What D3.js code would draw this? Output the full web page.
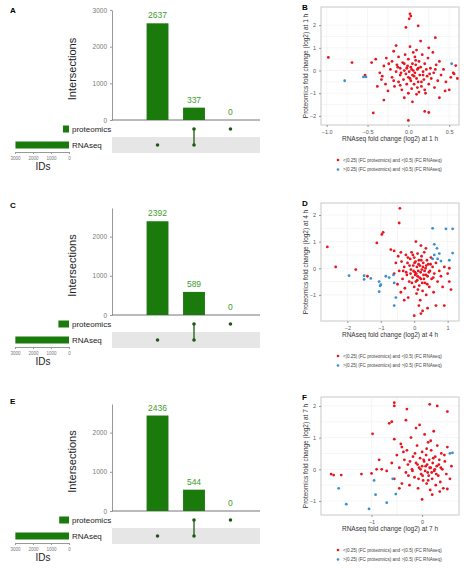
<!DOCTYPE html>
<html>
<head>
<meta charset="utf-8">
<script src="https://cdn.jsdelivr.net/npm/d3@7"></script>
<style>
  body { margin: 0; background: #fff; }
  text { font-family: "Liberation Sans", Arial, sans-serif; }
</style>
</head>
<body>
<div id="chart"></div>
<script>
// UpSet data (A, C, E)
const setNames = ["proteomics", "RNAseq"];
const combos = [["RNAseq"], ["proteomics", "RNAseq"], ["proteomics"]];
const countsA = [2637, 337, 0];
const countsC = [2392, 589, 0];
const countsE = [2436, 544, 0];
const setSizeTicks = [3000, 2000, 1000, 0];

// Scatter data (B, D, F): [RNAseq log2FC, proteomics log2FC]
const redB = [[-0.98,0.58],[-0.69,0.35],[-0.53,-0.2],[-0.43,-1.87],[0.0,-2.2],[0.02,2.5],[0.03,2.4],[0.01,2.28],[-0.03,1.9],[0.12,1.97],[0.33,1.45],[0.05,-1.38],[0.1,-1.05],[0.2,-1.8],[0.25,-1.85],[0.38,-1.2],[0.5,-0.85],[0.52,-0.3],[0.58,0.22],[0.6,-0.35],[0.55,-0.1],[0.46,-0.5],[0.45,-0.9],[0.43,0.05],[0.56,-0.15],
[-0.35,-0.1],[-0.33,-0.4],[-0.3,0.2],[-0.28,-0.6],[-0.27,0.55],[-0.25,-0.9],[-0.22,0.05],[-0.2,-0.3],[-0.2,0.4],[-0.18,0.85],[-0.17,-0.7],[-0.15,-0.05],[-0.14,0.25],[-0.12,-0.5],[-0.12,0.6],[-0.1,-0.2],[-0.1,0.1],[-0.08,-0.85],[-0.07,0.35],[-0.06,-0.4],[-0.05,0.0],[-0.04,0.7],[-0.03,-0.15],[-0.02,-0.6],[-0.01,0.2],[0.0,-0.3],[0.0,0.5],[0.01,-0.05],[0.02,1.05],[0.03,-0.45],[0.03,0.15],[0.04,-0.8],[0.05,0.3],[0.05,-0.2],[0.06,0.0],[0.07,-0.6],[0.08,0.6],[0.08,-0.1],[0.09,0.25],[0.1,-0.35],[0.1,0.9],[0.11,0.05],[0.12,-0.5],[0.13,-0.95],[0.13,0.4],[0.14,-0.2],[0.15,0.15],[0.16,-0.7],[0.17,0.7],[0.18,-0.05],[0.19,-0.4],[0.2,0.3],[0.21,-1.0],[0.22,0.05],[0.23,-0.25],[0.24,0.55],[0.25,-0.6],[0.27,0.1],[0.28,-0.35],[0.3,0.8],[0.31,-0.1],[0.32,-0.75],[0.34,0.25],[0.36,-0.45],[0.38,0.4],[0.4,-0.2],[-0.4,0.5],[-0.38,-0.7],[-0.45,0.35],[-0.3,-1.3],[-0.15,1.1],[0.15,1.3],[0.25,1.0],[0.0,-1.0],[-0.05,-1.2],
[-0.02,0.1],[0.04,0.05],[0.07,-0.25],[-0.09,-0.1],[0.12,0.1],[-0.13,0.15],[0.18,-0.2],[0.02,-0.35],[-0.05,0.3],[0.09,0.45],[0.16,-0.5],[-0.18,-0.45],[0.26,-0.15],[-0.24,0.3],[0.06,0.8],[0.2,-0.85],[-0.1,-0.65],[0.33,0.05],[-0.32,-0.25],[0.11,-0.75]];
const blueB = [[-0.78,-0.45],[-0.55,-0.28],[-0.52,-0.28],[0.53,0.3]];

const redD = [[-2.6,0.8],[-2.35,0.05],[-1.75,-0.05],[-1.12,0.95],[-0.97,1.27],[-0.93,1.35],[-0.43,2.25],[-0.45,1.7],[0.0,-1.78],[0.2,-1.7],[0.25,-1.6],[0.65,-1.4],[0.9,-1.4],[1.05,-0.5],[1.1,-0.8],[-1.4,-0.3],[-0.7,0.7],[-0.6,0.65],[-0.4,0.6],[0.05,1.0],[0.2,0.85],[0.35,0.75],
[-0.6,-0.2],[-0.55,0.2],[-0.5,-0.6],[-0.48,0.45],[-0.45,-0.1],[-0.4,-0.9],[-0.38,0.25],[-0.35,-0.4],[-0.3,0.05],[-0.28,-0.75],[-0.25,0.5],[-0.22,-0.25],[-0.2,0.2],[-0.18,-1.1],[-0.15,-0.5],[-0.12,0.35],[-0.1,-0.05],[-0.08,0.6],[-0.05,-0.35],[-0.03,0.1],[0.0,-0.7],[0.0,0.4],[0.02,-0.15],[0.04,0.25],[0.05,-0.5],[0.07,-0.95],[0.08,0.05],[0.1,0.55],[0.1,-0.3],[0.12,-0.1],[0.14,0.3],[0.15,-0.65],[0.17,0.1],[0.18,-1.2],[0.2,-0.4],[0.22,0.45],[0.23,-0.05],[0.25,-0.85],[0.27,0.2],[0.28,-0.25],[0.3,0.6],[0.32,-0.55],[0.34,0.0],[0.36,-1.0],[0.38,0.3],[0.4,-0.3],[0.42,0.15],[0.45,-0.7],[0.47,-0.1],[0.5,0.4],[0.52,-0.4],[0.55,0.05],[0.58,-0.9],[0.6,-0.2],[0.65,0.2],[0.7,-0.5],[0.75,-0.1],[0.8,-0.3],[0.85,-0.7],[0.9,0.05],[1.0,-0.2],[1.05,0.0],
[-0.02,-0.1],[0.06,-0.2],[0.13,0.15],[-0.07,-0.55],[0.19,-0.15],[0.26,0.05],[-0.14,0.1],[0.31,-0.1],[0.09,-0.45],[-0.24,-0.15],[0.36,0.1],[0.16,-0.35],[0.01,0.2],[0.24,-0.55],[-0.11,-0.2],[0.44,-0.15],[0.21,0.3],[0.03,-0.25],[0.29,-0.4],[-0.33,-0.1],[0.11,-0.8],[0.39,-0.6],[-0.19,0.4],[0.49,0.15],[0.35,-0.25],[-0.04,0.5],[0.57,-0.35],[0.14,-1.4],[0.4,-1.5],[-0.3,-1.2]];
const blueD = [[-1.95,-0.28],[-1.5,-0.28],[-1.5,-0.42],[-1.3,-0.38],[-1.05,-0.5],[-1.0,-0.62],[-1.02,-0.66],[-1.05,-0.88],[-0.6,-1.4],[-0.55,-1.1],[-0.6,-0.55],[-0.85,-0.3],[-0.75,-0.35],[-0.62,-0.25],[0.55,1.5],[0.95,1.48],[1.15,1.48],[1.15,0.57],[1.05,0.3],[0.6,0.9],[0.68,0.75],[0.75,0.55],[0.6,0.5],[0.7,0.35],[0.55,0.35],[0.8,0.27]];

const redF = [[-1.8,-0.15],[-1.75,-0.18],[-1.6,-0.18],[-1.2,-0.15],[-0.98,1.12],[-1.0,-0.13],[-0.9,0.0],[-0.55,2.1],[-0.55,2.0],[-0.3,1.9],[0.15,2.05],[0.3,2.0],[0.5,1.82],[-0.65,1.45],[-0.6,1.5],[-0.32,1.55],[-0.05,1.4],[-0.55,0.95],[-0.4,0.7],[0.0,-0.95],[0.5,-0.62],[-0.7,-0.05],[-0.8,0.0],[-0.85,0.3],
[-0.6,0.2],[-0.55,-0.3],[-0.5,0.45],[-0.45,0.05],[-0.42,0.8],[-0.4,-0.45],[-0.35,0.3],[-0.32,-0.1],[-0.3,0.6],[-0.28,0.15],[-0.25,-0.5],[-0.22,1.0],[-0.2,0.0],[-0.18,0.4],[-0.15,-0.25],[-0.12,0.2],[-0.1,0.75],[-0.08,-0.6],[-0.06,0.05],[-0.04,0.35],[-0.02,-0.15],[0.0,0.55],[0.0,0.1],[0.02,-0.35],[0.04,0.25],[0.05,1.1],[0.06,-0.05],[0.08,0.45],[0.09,-0.45],[0.1,0.15],[0.12,0.85],[0.13,-0.2],[0.14,0.3],[0.16,-0.65],[0.17,0.05],[0.18,0.6],[0.2,-0.3],[0.21,0.2],[0.23,1.2],[0.24,-0.05],[0.26,0.4],[0.27,-0.5],[0.29,0.1],[0.3,0.75],[0.32,-0.2],[0.34,0.3],[0.36,-0.4],[0.38,0.5],[0.4,0.0],[0.42,-0.6],[0.45,0.25],[0.48,-0.15],[0.5,0.7],[0.55,-0.3],[0.58,0.1],
[-0.03,0.0],[0.07,0.1],[0.11,-0.1],[-0.09,0.15],[0.15,0.05],[0.19,-0.1],[-0.14,0.5],[0.22,0.35],[0.01,-0.2],[-0.19,-0.05],[0.25,0.0],[0.33,0.15],[0.03,0.3],[-0.24,0.25],[0.12,-0.35],[0.28,-0.15],[-0.07,-0.3],[0.37,0.05],[0.09,0.65],[-0.27,-0.2],[0.44,0.45],[-0.37,0.55],[0.17,0.9],[-0.12,1.3],[0.35,-0.7],[-0.45,-0.6],[0.2,-0.8]];
const blueF = [[-1.65,-0.6],[-1.5,-1.1],[-1.05,-1.25],[-0.95,-0.35],[-0.92,-0.8],[-0.7,-1.05],[-0.58,-0.3],[-0.52,-0.78],[0.55,0.5],[0.6,0.52]];

const W = 474, H = 572;
const green = "#1b7a0c", labelGreen = "#3f9b2d", dotGreen = "#1c5a12";
const red = "#e8141e", blue = "#3a8fd0";

const svg = d3.select("#chart").append("svg").attr("width", W).attr("height", H);

function drawUpset(letter, counts, top, yMax, yTicks, dy) {
    const g = svg.append("g").attr("transform", `translate(0,${dy})`);
    g.append("text").attr("x", 10).attr("y", 13).attr("font-size", 8).attr("font-weight", "bold").text(letter);

    const x = d3.scaleBand().domain(d3.range(combos.length)).range([132, 256]).padding(0.4);
    const y = d3.scaleLinear().domain([0, yMax]).range([120, top]);

    const ax = g.append("g").attr("transform", "translate(112,0)")
        .call(d3.axisLeft(y).tickValues(yTicks).tickSize(2).tickSizeOuter(0).tickFormat(d3.format("d")));
    ax.selectAll("text").attr("font-size", 6.5).attr("fill", "#777");
    ax.selectAll("line").attr("stroke", "#999");
    ax.select(".domain").attr("stroke", "#999");
    g.append("line").attr("x1", 112).attr("x2", 260).attr("y1", 120).attr("y2", 120).attr("stroke", "#777");

    g.selectAll(".bar").data(counts).enter().append("rect")
        .attr("x", (d, i) => x(i)).attr("width", x.bandwidth())
        .attr("y", d => y(d)).attr("height", d => 120 - y(d)).attr("fill", green);
    g.selectAll(".lab").data(counts).enter().append("text")
        .attr("x", (d, i) => x(i) + x.bandwidth() / 2).attr("y", d => y(d) - 5)
        .attr("text-anchor", "middle").attr("font-size", 8.5).attr("fill", labelGreen).text(d => d);

    g.append("text").attr("transform", `translate(76,${(120 + top) / 2 + 4}) rotate(-90)`)
        .attr("text-anchor", "middle").attr("font-size", 11).attr("fill", "#222").text("Intersections");

    // matrix
    const rowY = d3.scalePoint().domain(setNames).range([129, 145]);
    g.append("rect").attr("x", 112).attr("y", 137).attr("width", 148).attr("height", 16).attr("fill", "#e6e6e6");
    combos.forEach((c, i) => {
        const cx = x(i) + x.bandwidth() / 2;
        if (c.length > 1) {
            g.append("line").attr("x1", cx).attr("x2", cx)
                .attr("y1", rowY(c[0])).attr("y2", rowY(c[c.length - 1]))
                .attr("stroke", dotGreen).attr("stroke-width", 1.3);
        }
        c.forEach(s => g.append("circle").attr("cx", cx).attr("cy", rowY(s)).attr("r", 1.8).attr("fill", dotGreen));
    });

    // set sizes
    const sizes = {
        proteomics: counts[1] + counts[2],
        RNAseq: counts[0] + counts[1]
    };
    const sx = d3.scaleLinear().domain([3000, 0]).range([15, 69]);
    setNames.forEach(s => {
        g.append("rect").attr("x", sx(sizes[s])).attr("width", 69 - sx(sizes[s]))
            .attr("y", rowY(s) - 3.5).attr("height", 7).attr("fill", green);
        g.append("text").attr("x", 72).attr("y", rowY(s) + 3).attr("font-size", 8).attr("fill", "#222").text(s);
    });
    const sax = g.append("g").attr("transform", "translate(0,152)")
        .call(d3.axisBottom(sx).tickValues(setSizeTicks).tickSize(2).tickSizeOuter(0).tickFormat(d3.format("d")));
    sax.selectAll("text").attr("font-size", 4.5).attr("fill", "#777");
    sax.selectAll("line").attr("stroke", "#999");
    sax.select(".domain").attr("stroke", "#999");
    g.append("text").attr("x", 43).attr("y", 170).attr("text-anchor", "middle").attr("font-size", 10).attr("fill", "#222").text("IDs");
}

drawUpset("A", countsA, 10, 3000, [0, 1000, 2000, 3000], 0);
drawUpset("C", countsC, 13, 2730, [0, 1000, 2000], 195);
drawUpset("E", countsE, 13, 2730, [0, 1000, 2000], 391);

function drawScatter(letter, red_, blue_, xd, yd, xt, yt, top, hour) {
    const L = 321, R = 459, B = top + 118;
    const g = svg.append("g");
    g.append("text").attr("x", 302).attr("y", top + 3).attr("font-size", 8).attr("font-weight", "bold").text(letter);
    const x = d3.scaleLinear().domain(xd).range([L, R]);
    const y = d3.scaleLinear().domain(yd).range([B, top]);

    const minor = (t) => t.slice(0, -1).map((v, i) => (v + t[i + 1]) / 2);
    [...xt, ...minor(xt)].forEach(v => g.append("line").attr("x1", x(v)).attr("x2", x(v)).attr("y1", top).attr("y2", B).attr("stroke", "#ededed").attr("stroke-width", 0.5));
    [...yt, ...minor(yt)].forEach(v => g.append("line").attr("y1", y(v)).attr("y2", y(v)).attr("x1", L).attr("x2", R).attr("stroke", "#ededed").attr("stroke-width", 0.5));
    g.append("rect").attr("x", L).attr("y", top).attr("width", R - L).attr("height", B - top).attr("fill", "none").attr("stroke", "#c8c8c8");

    const xa = g.append("g").attr("transform", `translate(0,${B})`).call(d3.axisBottom(x).tickValues(xt).tickSize(2).tickSizeOuter(0).tickFormat(d => d3.format(xt.some(v => v % 1) ? ".1f" : "d")(d)));
    const ya = g.append("g").attr("transform", `translate(${L},0)`).call(d3.axisLeft(y).tickValues(yt).tickSize(2).tickSizeOuter(0).tickFormat(d3.format("d")));
    [xa, ya].forEach(a => { a.select(".domain").remove(); a.selectAll("text").attr("font-size", 5.5).attr("fill", "#555"); a.selectAll("line").attr("stroke", "#999"); });

    g.selectAll(".r").data(red_).enter().append("circle").attr("cx", d => x(d[0])).attr("cy", d => y(d[1])).attr("r", 1.4).attr("fill", red);
    g.selectAll(".b").data(blue_).enter().append("circle").attr("cx", d => x(d[0])).attr("cy", d => y(d[1])).attr("r", 1.4).attr("fill", blue);

    g.append("text").attr("x", (L + R) / 2).attr("y", B + 16).attr("text-anchor", "middle").attr("font-size", 6.5).attr("fill", "#333").text(`RNAseq fold change (log2) at ${hour} h`);
    g.append("text").attr("transform", `translate(${L - 13},${(top + B) / 2}) rotate(-90)`).attr("text-anchor", "middle").attr("font-size", 6.5).attr("fill", "#333").text(`Proteomics fold change (log2) at ${hour} h`);

    const legend = [[red, "<|0.25| (FC proteomics) and <|0.5| (FC RNAseq)"], [blue, ">|0.25| (FC proteomics) and >|0.5| (FC RNAseq)"]];
    legend.forEach((l, i) => {
        const ly = B + 35 + i * 9.5;
        g.append("circle").attr("cx", 338).attr("cy", ly).attr("r", 1.3).attr("fill", l[0]);
        g.append("text").attr("x", 343).attr("y", ly + 1.8).attr("font-size", 4.6).attr("fill", "#444").text(l[1]);
    });
}

drawScatter("B", redB, blueB, [-1.07, 0.62], [-2.4, 2.8], [-1.0, -0.5, 0.0, 0.5], [-2, -1, 0, 1, 2], 7, 1);
drawScatter("D", redD, blueD, [-2.79, 1.34], [-1.98, 2.45], [-2, -1, 0, 1], [-1, 0, 1, 2], 203, 4);
drawScatter("F", redF, blueF, [-2.0, 0.73], [-1.44, 2.28], [-1, 0], [-1, 0, 1, 2], 397, 7);
</script>
</body>
</html>
